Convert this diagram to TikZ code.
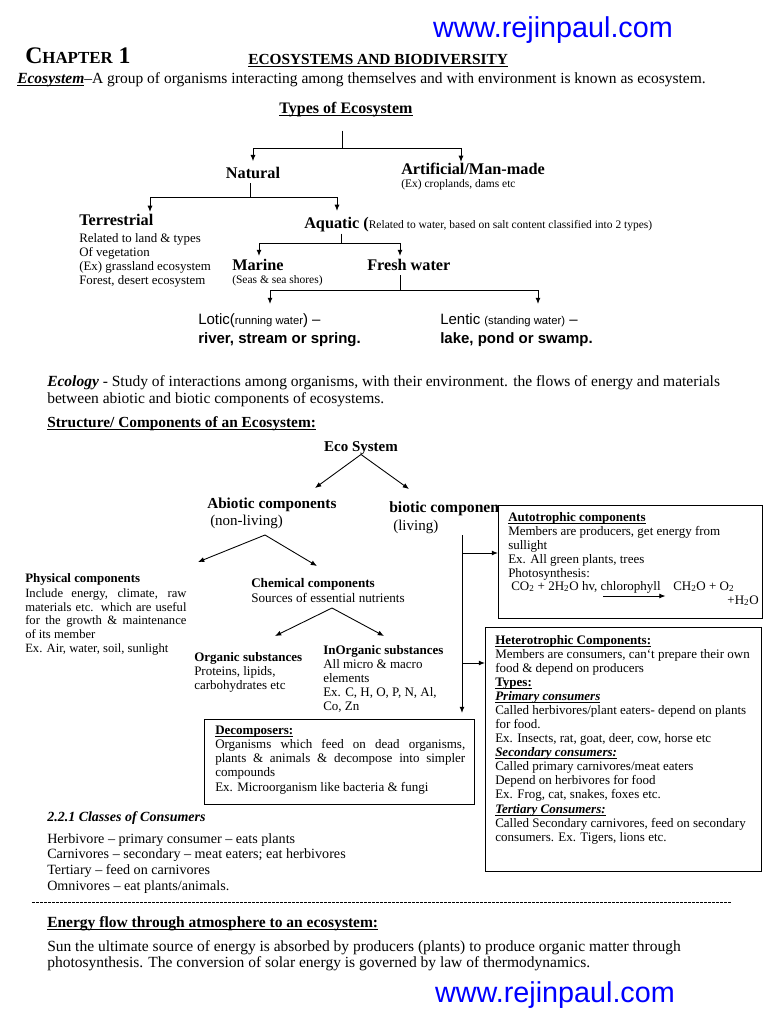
\documentclass[tikz,border=0pt,12pt]{standalone}
\usepackage{fontspec}
\setmainfont{Liberation Serif}
\newfontfamily\arialfont{Liberation Sans}
\usetikzlibrary{positioning,arrows.meta}
\definecolor{urlblue}{RGB}{0,0,255}
\newcommand{\jline}[2]{\makebox[#1][s]{#2}}
\newcommand{\undl}[1]{\underline{\raisebox{0pt}[\height][0pt]{#1}}}
\newcommand{\boxfont}{\fontsize{10.4}{11.25}\selectfont}
\newcommand{\tinyfont}{\fontsize{9.2}{10}\selectfont}
\newcommand{\treefont}{\fontsize{13}{15}\selectfont\bfseries}
\newcommand{\parafont}{\fontsize{12.4}{13.6}\selectfont}

\begin{document}
\begin{tikzpicture}
[x=0.8pt,y=-0.8pt,
 every node/.style={inner sep=0pt},
 tl/.style={anchor=base west},
 tc/.style={anchor=base},
 para/.style={anchor=north west,align=left,yshift=8.5pt},
 desc/.style={anchor=north west,align=left,yshift=7.1pt,font=\fontsize{10.3}{11.2}\selectfont},
 bx/.style={anchor=north west,align=left,yshift=7.2pt,font=\boxfont},
 frame/.style={draw,fill=white,line width=0.9pt,anchor=north west},
 arr/.style={-{Latex[length=5pt,width=4pt]},line width=0.8pt},
 link/.style={line width=0.8pt},
 url/.style={tc,text=urlblue,font=\arialfont\fontsize{23}{26}\selectfont}]
\fill[white] (0,0) rectangle (768,1024);

% header
\node[url] (urltop) at (553,38) {www.rejinpaul.com};
\node[tl] (chapter) at (25,64) {\bfseries\fontsize{19}{22}\selectfont C{\fontsize{13.5}{16}\selectfont HAPTER} 1};
\node[tl,font=\fontsize{12.3}{14}\selectfont\bfseries] (title) at (248,65) {\undl{ECOSYSTEMS AND BIODIVERSITY}};
\node[tl,font=\parafont] (ecodef) at (17,84) {\textbf{\textit{\undl{Ecosystem}}}--A group of organisms interacting among themselves and with environment is known as ecosystem.};

% types of ecosystem
\node[tc,font=\fontsize{12.8}{15}\selectfont\bfseries] (types) at (346,114) {\undl{Types of Ecosystem}};
\node[tc,font=\treefont] (natural) at (253,179) {Natural};
\node[tl,font=\treefont] (artificial) at (401,175) {Artificial/Man-made};
\node[tl,font=\tinyfont] (artex) at (401,188) {(Ex) croplands, dams etc};
\node[tl,font=\treefont] (terrestrial) at (79,225) {Terrestrial};
\node[desc] (terrdesc) at (79,242) {Related to land \& types\\Of vegetation\\(Ex) grassland ecosystem\\Forest, desert ecosystem};
\node[tl] (aquatic) at (304,228) {{\treefont Aquatic (}{\tinyfont Related to water, based on salt content classified into 2 types)}};
\node[tl,font=\treefont] (marine) at (232,270) {Marine};
\node[tl,font=\tinyfont] (marex) at (232,283) {(Seas \& sea shores)};
\node[tl,font=\treefont] (fresh) at (367,270) {Fresh water};
\node[tl,font=\arialfont] (lotic) at (198,324) {Lotic({\fontsize{9}{10}\selectfont running water}) \textendash};
\node[tl,font=\arialfont\bfseries] (lotex) at (198,343) {river, stream or spring.};
\node[tl,font=\arialfont] (lentic) at (440,324) {Lentic {\fontsize{9}{10}\selectfont (standing water)} \textendash};
\node[tl,font=\arialfont\bfseries] (lentex) at (440,343) {lake, pond or swamp.};

\coordinate (f1) at (342,149);
\coordinate (artTip) at (461,162);
\draw[link] (types.south -| f1) ++(0,14) -- (f1);
\draw[arr] (f1) -| ([yshift=5pt]natural.north);
\draw[arr] (f1) -| (artTip);
\coordinate (f2) at (250,198);
\coordinate (terTip) at (150,212);
\coordinate (aquTip) at (337,211);
\draw[link] (natural.south -| f2) ++(0,4) -- (f2);
\draw[arr] (f2) -| (terTip);
\draw[arr] (f2) -| (aquTip);
\coordinate (f3) at (341,243);
\coordinate (marTip) at (259,256);
\coordinate (freTip) at (400,256);
\draw[link] (aquatic.south -| f3) ++(0,2) -- (f3);
\draw[arr] (f3) -| (marTip);
\draw[arr] (f3) -| (freTip);
\coordinate (f4) at (400,290);
\coordinate (lotTip) at (270,304);
\coordinate (lenTip) at (538,304);
\draw[link] (fresh.south -| f4) ++(0,5) -- (f4);
\draw[arr] (f4) -| (lotTip);
\draw[arr] (f4) -| (lenTip);

% ecology
\node[para,font=\parafont] (ecology) at (47,386) {\textbf{\textit{Ecology}} - Study of interactions among organisms, with their environment. the flows of energy and materials\\between abiotic and biotic components of ecosystems.};
\node[tl,font=\fontsize{12.3}{14}\selectfont\bfseries] (structure) at (47,427) {\undl{Structure/ Components of an Ecosystem:}};

% components
\node[tc,font=\bfseries] (eco) at (361,451) {Eco System};
\node[tl,font=\fontsize{12.2}{14}\selectfont\bfseries] (abiotic) at (207,508) {Abiotic components};
\node[tl] (nonliving) at (210,525) {(non-living)};
\node[tl,font=\fontsize{12.5}{14}\selectfont\bfseries] (biotic) at (389,512) {biotic componen};
\node[tl] (living) at (393,530) {(living)};
\coordinate (abTip) at (315,488);
\coordinate (biTip) at (409,489);
\draw[arr,line width=0.7pt] (eco.south) -- (abTip);
\draw[arr,line width=0.7pt] (eco.south) -- (biTip);

\node[tl,font=\fontsize{10.3}{11}\selectfont\bfseries] (physical) at (25,582) {Physical components};
\node[anchor=north west,align=left,yshift=7pt,font=\fontsize{10.1}{11}\selectfont] (physdesc) at (25,597) {\jline{129pt}{Include energy, climate, raw}\\\jline{129pt}{materials etc. which are useful}\\\jline{129pt}{for the growth \& maintenance}\\of its member\\Ex. Air, water, soil, sunlight};
\node[tl,font=\fontsize{10.5}{12}\selectfont\bfseries] (chemical) at (251,587) {Chemical components};
\node[tl,font=\fontsize{10.5}{12}\selectfont] (chemdesc) at (251,602) {Sources of essential nutrients};
\coordinate (abFork) at (265,535);
\coordinate (phyTip) at (198,562);
\coordinate (chmTip) at (317,566);
\draw[arr,line width=0.7pt] (abFork) -- (phyTip);
\draw[arr,line width=0.7pt] (abFork) -- (chmTip);

\node[tl,font=\boxfont\bfseries] (organic) at (194,661) {Organic substances};
\node[bx] (orgdesc) at (194,675) {Proteins, lipids,\\carbohydrates etc};
\node[tl,font=\boxfont\bfseries] (inorganic) at (323,654) {InOrganic substances};
\node[bx] (inorgdesc) at (323,668) {All micro \& macro\\elements\\Ex. C, H, O, P, N, Al,\\Co, Zn};
\coordinate (chFork) at (332,608);
\coordinate (orgTip) at (275,636);
\coordinate (inoTip) at (384,636);
\draw[arr,line width=0.7pt] (chFork) -- (orgTip);
\draw[arr,line width=0.7pt] (chFork) -- (inoTip);

% biotic boxes
\node[frame,minimum width=211.2pt,minimum height=90.4pt] (autobox) at (498,505) {};
\node[bx] (autotext) at (508,521) {\textbf{\undl{Autotrophic components}}\\Members are producers, get energy from\\sullight\\Ex. All green plants, trees\\Photosynthesis:};
\node[tl,font=\boxfont] (eqa) at (511,590) {CO\textsubscript{2} + 2H\textsubscript{2}O hv, chlorophyll};
\node[tl,font=\boxfont] (eqb) at (673,590) {CH\textsubscript{2}O + O\textsubscript{2}};
\node[anchor=base east,font=\boxfont] (eqc) at (759,604) {+H\textsubscript{2}O};
\coordinate (chlStart) at (603,596);
\draw[arr,line width=0.7pt,shorten >=6pt] (chlStart) -- (chlStart -| eqb.west);

\node[frame,minimum width=220.8pt,minimum height=195.2pt] (heterobox) at (485,627) {};
\node[bx] (heterotext) at (495,644) {\textbf{\undl{Heterotrophic Components:}}\\Members are consumers, can`t prepare their own\\food \& depend on producers\\\textbf{\undl{Types:}}\\\textbf{\textit{\undl{Primary consumers}}}\\Called herbivores/plant eaters- depend on plants\\for food.\\Ex. Insects, rat, goat, deer, cow, horse etc\\\textbf{\textit{\undl{Secondary consumers:}}}\\Called primary carnivores/meat eaters\\Depend on herbivores for food\\Ex. Frog, cat, snakes, foxes etc.\\\textbf{\textit{\undl{Tertiary Consumers:}}}\\Called Secondary carnivores, feed on secondary\\consumers. Ex. Tigers, lions etc.};

\node[frame,minimum width=216pt,minimum height=68pt] (decompbox) at (204,719) {};
\node[bx] (decomptext) at (215,735) {\textbf{\undl{Decomposers:}}\\\jline{200pt}{Organisms which feed on dead organisms,}\\\jline{200pt}{plants \& animals \& decompose into simpler}\\compounds\\Ex. Microorganism like bacteria \& fungi};

\coordinate (bTop) at (462,535);
\coordinate (bBot) at (462,713);
\draw[arr] (bTop) -- (bBot);
\draw[arr] (bTop |- 0,553) -- (autobox.west |- 0,553);
\draw[arr] (bTop |- 0,663) -- (heterobox.west |- 0,663);

% consumers
\node[tl,font=\fontsize{11.2}{13}\selectfont\bfseries\itshape] (classes) at (47,821) {2.2.1 Classes of Consumers};
\node[anchor=north west,align=left,yshift=7.8pt,font=\fontsize{11.3}{12.5}\selectfont] (classlist) at (47,843) {Herbivore -- primary consumer -- eats plants\\Carnivores -- secondary -- meat eaters; eat herbivores\\Tertiary -- feed on carnivores\\Omnivores -- eat plants/animals.};
\draw[dash pattern=on 2pt off 1.2pt,line width=0.4pt] (32,902) -- (731,902);

% energy flow
\node[tl,font=\fontsize{12.4}{14}\selectfont\bfseries] (energy) at (47,927) {\undl{Energy flow through atmosphere to an ecosystem:}};
\node[para,font=\fontsize{12.4}{12.8}\selectfont] (sun) at (47,951) {Sun the ultimate source of energy is absorbed by producers (plants) to produce organic matter through\\photosynthesis. The conversion of solar energy is governed by law of thermodynamics.};
\node[url] (urlbot) at (555,1002) {www.rejinpaul.com};
\end{tikzpicture}
\end{document}
